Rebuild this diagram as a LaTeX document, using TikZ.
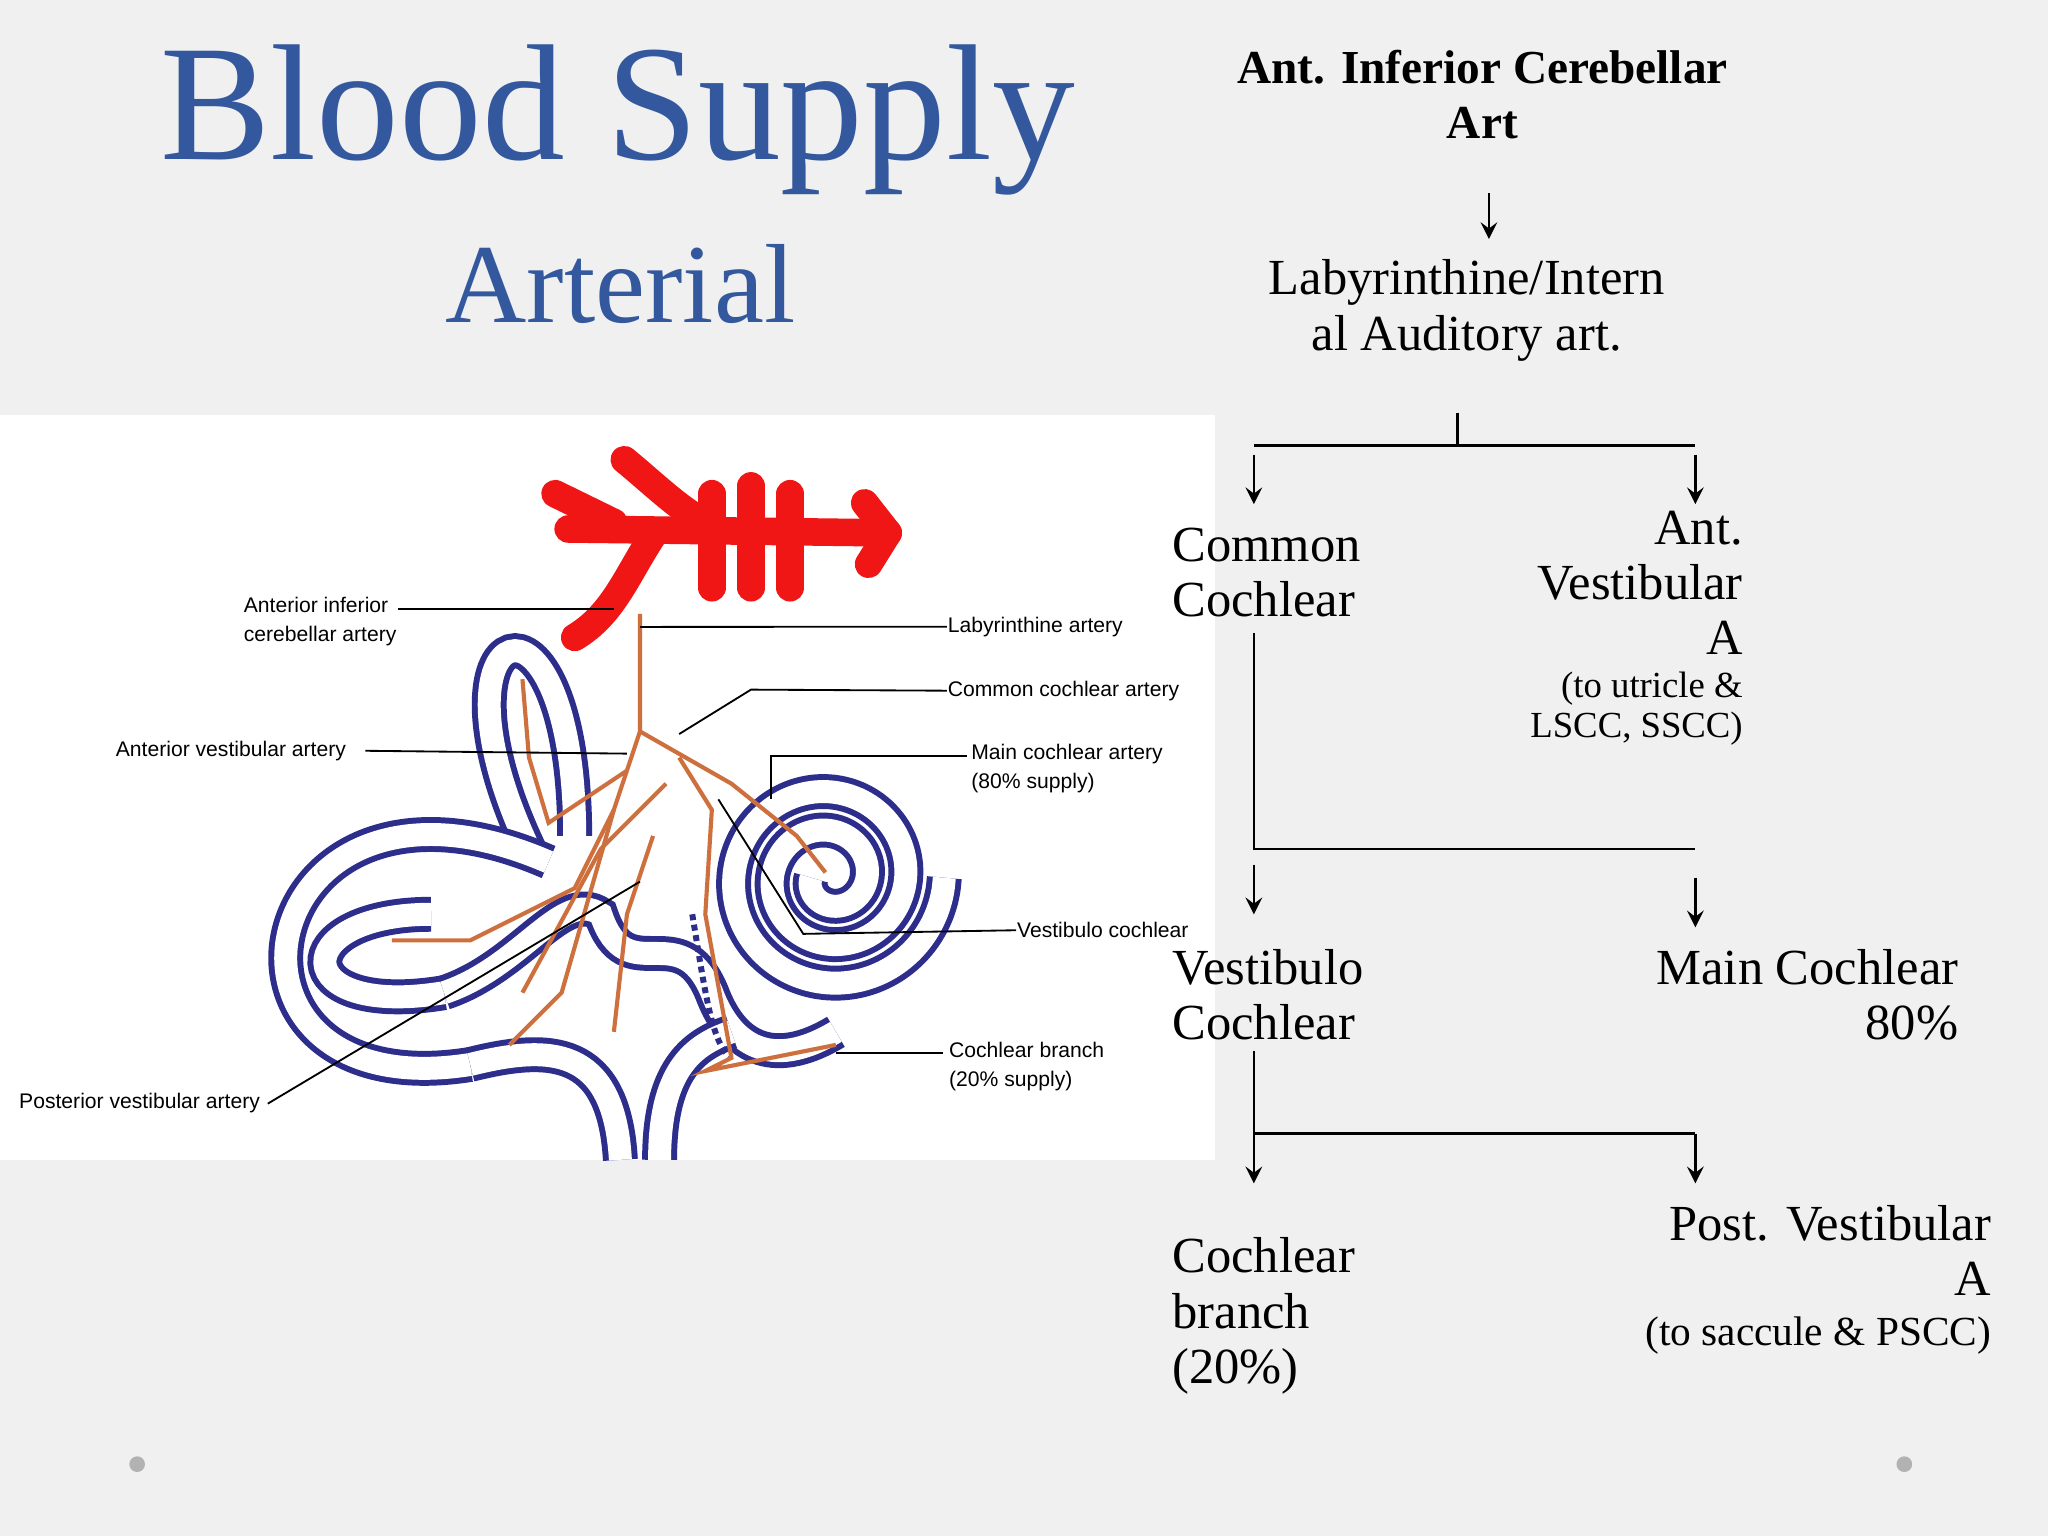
\documentclass[tikz,border=0pt]{standalone}
\usepackage{fontspec}
\setmainfont{Liberation Serif}
\setsansfont{Liberation Sans}
\definecolor{titleblue}{RGB}{52,88,158}
\definecolor{earblue}{RGB}{45,45,140}
\definecolor{artred}{RGB}{240,22,22}
\definecolor{artorange}{RGB}{205,112,62}
\tikzset{
  tube/.style={draw=earblue, line width=1.3pt, double=white, double distance=5pt},
  vessel/.style={draw=artorange, line width=0.9pt},
  lead/.style={draw=black, line width=0.4pt},
  tag/.style={font=\sffamily\fontsize{4.6}{6.3}\selectfont, align=left, inner sep=0pt},
  tree/.style={draw=black, line width=0.6pt},
  down/.style={tree, ->, >=stealth},
  txt/.style={font=\fontsize{11}{12}\selectfont, inner sep=0pt},
  small/.style={font=\fontsize{8}{8.9}\selectfont, inner sep=0pt},
}
\begin{document}
\begin{tikzpicture}[x=0.01cm,y=-0.01cm]
\useasboundingbox (0,0) rectangle (1568,1176);
\fill[gray!12] (0,0) rectangle (1568,1176);
\fill[white] (0,318) rectangle (930,888);
% titles
\node[anchor=base, text=titleblue, font=\fontsize{36}{40}\selectfont, inner sep=0pt] (title) at (473,122) {Blood Supply};
\node[anchor=base, text=titleblue, font=\fontsize{24.5}{30}\selectfont, inner sep=0pt] (sub) at (475,247) {Arterial};
%% ear drawing: red artery
\begin{scope}[artred, line width=6pt, line cap=round]
\draw (435,405) -- (680,408);
\draw (440,488) .. controls (470,470) and (480,440) .. (500,410);
\draw (478,352) .. controls (500,370) and (520,390) .. (540,400);
\draw (425,378) -- (470,400);
\draw (545,378) -- (545,450);
\draw (575,372) -- (575,450);
\draw (605,378) -- (605,450);
\draw (680,408) -- (662,385);
\draw (680,408) -- (665,432);
\end{scope}
%% blue labyrinth
\draw[tube] plot[domain=0:900, samples=150, smooth] ({635+(88-\x/900*74)*cos(\x)}, {672+(88-\x/900*74)*sin(\x)});
\draw[tube] (405,650) .. controls (320,470) and (440,430) .. (440,640);
\draw[tube] (420,660) .. controls (190,560) and (140,850) .. (360,815);
\draw[tube] (330,700) .. controls (220,700) and (220,780) .. (340,760);
\draw[tube] (340,760) .. controls (400,740) and (430,680) .. (460,700)
  .. controls (480,760) and (520,700) .. (545,760) .. controls (560,800) and (590,820) .. (640,790);
\draw[tube] (360,815) .. controls (420,800) and (470,800) .. (475,888);
\draw[tube] (505,888) .. controls (505,820) and (530,800) .. (560,790);
\draw[earblue, line width=1.3pt, densely dotted] (530,700) .. controls (540,760) and (545,800) .. (560,810);
%% orange branches
\draw[vessel] (490,470) -- (490,560) -- (470,620) -- (440,680) -- (360,720) -- (300,720);
\draw[vessel] (490,560) -- (560,600) -- (610,640) -- (632,668);
\draw[vessel] (480,590) -- (420,630) -- (405,580) -- (400,520);
\draw[vessel] (470,620) -- (430,760) -- (390,800);
\draw[vessel] (520,580) -- (545,620) -- (540,700) -- (560,810) -- (540,820) -- (640,800);
\draw[vessel] (500,640) -- (480,700) -- (470,790);
\draw[vessel] (510,600) -- (460,650) -- (400,760);
%% labels with leaders
\node[tag, anchor=base west] (aica) at (186,491) {Anterior inferior\\cerebellar artery};
\draw[lead] (305,466) -- (470,466);
\node[tag, anchor=base west] (laby) at (725,484) {Labyrinthine artery};
\draw[lead] (490,480) -- (laby.west);
\node[tag, anchor=base west] (cca) at (725,533) {Common cochlear artery};
\draw[lead] (520,562) -- (575,528) -- (cca.west);
\node[tag, anchor=base west] (ava) at (88,579) {Anterior vestibular artery};
\draw[lead] (ava.east) ++(4pt,0) -- (480,577);
\node[tag, anchor=base west] (mca) at (743,604) {Main cochlear artery\\(80\% supply)};
\draw[lead] (740,579) -- (590,579) -- (590,612);
\node[tag, anchor=base west] (vca) at (778,718) {Vestibulo cochlear};
\draw[lead] (vca.west) -- (615,715) -- (550,612);
\node[tag, anchor=base west] (cba) at (726,832) {Cochlear branch\\(20\% supply)};
\draw[lead] (722,806) -- (640,806);
\node[tag, anchor=base west] (pva) at (14,849) {Posterior vestibular artery};
\draw[lead] (205,845) -- (490,675);
%% flow chart
\node[anchor=base, align=center, inner sep=0pt, font=\bfseries\fontsize{10.3}{12}\selectfont] (aicatxt) at (1135,106) {Ant. Inferior Cerebellar\\Art};
\node[anchor=base, align=center, inner sep=0pt, font=\fontsize{11}{12}\selectfont] (labtxt) at (1123,268) {Labyrinthine/Intern\\al Auditory art.};
\coordinate (a1) at (1140,148); \coordinate (a2) at (1140,183);
\draw[down] (a1) -- (a2);
\coordinate (t0) at (1116,316); \coordinate (t1) at (1116,341);
\coordinate (l1) at (960,341); \coordinate (r1) at (1298,341);
\draw[tree] (t0) -- (t1) (l1) -- (r1);
\draw[down] (960,348) -- (960,386);
\draw[down] (1298,348) -- (1298,386);
\node[txt, anchor=base west, align=left] (common) at (897,472) {Common\\Cochlear};
\node[txt, anchor=base east, align=right] (antv) at (1335,501) {Ant.\\Vestibular\\A};
\node[small, anchor=base east, align=right] (antvs) at (1335,565) {(to utricle \&\\LSCC, SSCC)};
\coordinate (c1) at (960,485); \coordinate (c2) at (960,650); \coordinate (c3) at (1298,650);
\draw[tree] (c1) -- (c2) -- (c3);
\draw[down] (960,662) -- (960,700);
\draw[down] (1298,672) -- (1298,710);
\node[txt, anchor=base west, align=left] (vest) at (897,796) {Vestibulo\\Cochlear};
\node[txt, anchor=base east, align=right] (main) at (1500,796) {Main Cochlear\\80\%};
\coordinate (v1) at (960,805); \coordinate (v2) at (960,868); \coordinate (v3) at (1298,868);
\draw[tree] (v1) -- (v2) -- (v3);
\draw[down] (v2) -- (960,906);
\draw[down] (v3) -- (1298,906);
\node[txt, anchor=base west, align=left] (cbr) at (897,1059) {Cochlear\\branch\\(20\%)};
\node[txt, anchor=base east, align=right] (postv) at (1525,992) {Post. Vestibular\\A};
\node[font=\fontsize{9}{12}\selectfont, inner sep=0pt, anchor=base east] (postvs) at (1525,1030) {(to saccule \& PSCC)};
% corner dots
\fill[gray!60] (105,1121) circle (6);
\fill[gray!60] (1458,1121) circle (6);
\end{tikzpicture}
\end{document}
